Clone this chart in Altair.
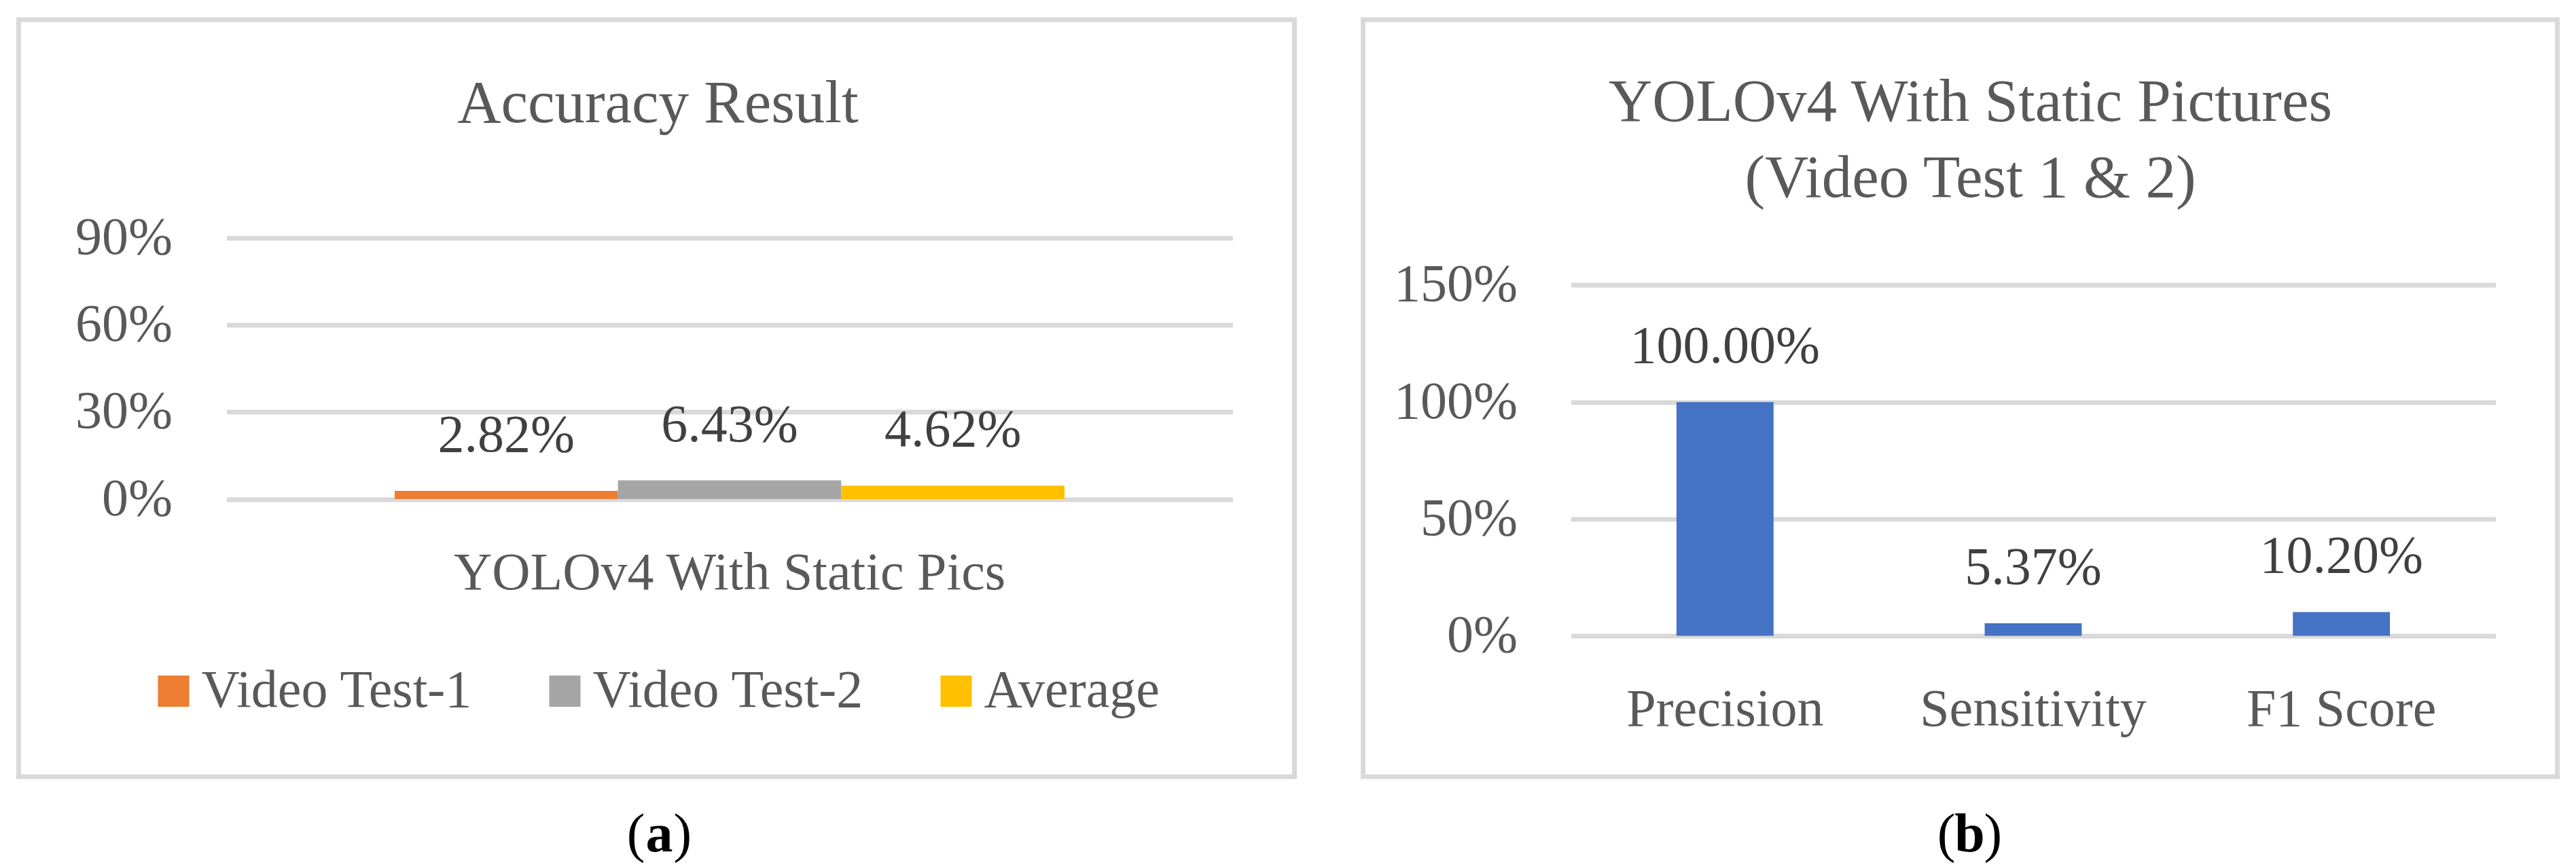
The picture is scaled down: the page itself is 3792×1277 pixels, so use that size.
import altair as alt
import pandas as pd

# ---------------- data ----------------
# Panel (a)
group_label = ["YOLOv4 With Static Pics"]
series_a = ["Video Test-1", "Video Test-2", "Average"]
values_a = [2.82, 6.43, 4.62]
colors_a = ["#ED7D31", "#A5A5A5", "#FFC000"]
ticks_a = [0, 30, 60, 90]
title_a = "Accuracy Result"

# Panel (b)
metrics_b = ["Precision", "Sensitivity", "F1 Score"]
values_b = [100.00, 5.37, 10.20]
ticks_b = [0, 50, 100, 150]
title_b = ["YOLOv4 With Static Pictures", "(Video Test 1 & 2)"]

# ---------------- style ----------------
FONT = "Liberation Serif"
AXIS_GRAY = "#595959"
LABEL_DARK = "#404040"
GRID = "#D9D9D9"
FS = 78

df_a = pd.DataFrame({"group": group_label * len(series_a), "series": series_a, "value": values_a})
df_b = pd.DataFrame({"metric": metrics_b, "value": values_b})
one = pd.DataFrame({"k": [0]})

WA, HA = 1481, 384.5
WB, HB = 1361, 586


def frame(x1, x2, y1, y2):
    return alt.Chart(one).mark_rect(fillOpacity=0, stroke=GRID, strokeWidth=7).encode(
        x=alt.value(x1), x2=alt.value(x2), y=alt.value(y1), y2=alt.value(y2))


def caption(letter, cx, base):
    common = dict(font=FONT, fontSize=80, color="#000000", baseline="alphabetic")
    lp = alt.Chart(one).mark_text(align="right", **common).encode(
        x=alt.value(cx - 21), y=alt.value(base), text=alt.value("("))
    mid = alt.Chart(one).mark_text(align="center", fontWeight="bold", **common).encode(
        x=alt.value(cx), y=alt.value(base), text=alt.value(letter))
    rp = alt.Chart(one).mark_text(align="left", **common).encode(
        x=alt.value(cx + 21), y=alt.value(base), text=alt.value(")"))
    return [lp, mid, rp]


def y_axis(values, pad):
    return alt.Axis(values=values, labelExpr="datum.value + '%'", title=None, domain=False,
                    ticks=False, tickSize=0, labelPadding=pad, labelFontSize=FS, labelFont=FONT,
                    labelColor=AXIS_GRAY, grid=True, gridColor=GRID, gridWidth=7, labelLimit=2000)


def x_axis(pad):
    return alt.Axis(title=None, labelAngle=0, domain=False, ticks=False, tickSize=0,
                    labelPadding=pad, labelBaseline="alphabetic", labelFontSize=FS, labelFont=FONT,
                    labelColor=AXIS_GRAY, labelLimit=2000, grid=False)


# ---------------- panel (a) ----------------
x_a = alt.X("group:N", scale=alt.Scale(paddingOuter=0.251, paddingInner=0), axis=x_axis(132))
xo_a = alt.XOffset("series:N", sort=series_a, scale=alt.Scale(paddingInner=0, paddingOuter=0))
y_a = alt.Y("value:Q", scale=alt.Scale(domain=[0, 90], nice=False), axis=y_axis(ticks_a, 80))

bars_a = alt.Chart(df_a).mark_bar().encode(
    x=x_a, xOffset=xo_a, y=y_a,
    color=alt.Color("series:N", sort=series_a,
                    scale=alt.Scale(domain=series_a, range=colors_a),
                    legend=alt.Legend(title=None, orient="none", legendX=-117, legendY=628.5,
                                      direction="horizontal", columns=3, symbolType="square",
                                      symbolSize=2116, symbolStrokeWidth=0, labelFontSize=FS,
                                      labelFont=FONT, labelColor=AXIS_GRAY, labelOffset=2,
                                      columnPadding=96, padding=0, labelLimit=2000)))

labels_a = alt.Chart(df_a).transform_calculate(
    label="format(datum.value, '.2f') + '%'"
).mark_text(font=FONT, fontSize=FS, color=LABEL_DARK, baseline="alphabetic", dy=-58).encode(
    x=x_a, xOffset=xo_a, y=y_a, text="label:N")

head_a = alt.Chart(one).mark_text(font=FONT, fontSize=89, color=AXIS_GRAY, baseline="alphabetic",
                                  align="center").encode(
    x=alt.value(635), y=alt.value(-171), text=alt.value(title_a))

left = alt.layer(frame(-306, 1572, -321.5, 793.5), head_a, *caption("a", 637, 903.5),
                 bars_a, labels_a).properties(width=WA, height=HA)

# ---------------- panel (b) ----------------
x_b = alt.X("metric:N", sort=metrics_b, scale=alt.Scale(paddingInner=0.685, paddingOuter=0.3425),
            axis=x_axis(131.5))
y_b = alt.Y("value:Q", scale=alt.Scale(domain=[0, 170.18], nice=False), axis=y_axis(ticks_b, 79))

bars_b = alt.Chart(df_b).mark_bar(color="#4472C4").encode(x=x_b, y=y_b)
labels_b = alt.Chart(df_b).transform_calculate(
    label="format(datum.value, '.2f') + '%'"
).mark_text(font=FONT, fontSize=FS, color=LABEL_DARK, baseline="alphabetic", dy=-58).encode(
    x=x_b, y=y_b, text="label:N")

head_b = alt.Chart(one).mark_text(font=FONT, fontSize=89, color=AXIS_GRAY, baseline="alphabetic",
                                  align="center", lineHeight=112).encode(
    x=alt.value(588), y=alt.value(-172.5), text=alt.value(title_b))

right = alt.layer(frame(-306, 1452, -321.5, 793.5), head_b, *caption("b", 587, 903.5),
                  bars_b, labels_b).properties(width=WB, height=HB)

chart = alt.hconcat(left, right, spacing=93).properties(
    padding={"left": 15.5, "top": 17.5, "right": 5, "bottom": 0},
    background="white",
).configure_view(strokeWidth=0)

chart.save("out.html", embed_options={"renderer": "svg", "actions": False})
